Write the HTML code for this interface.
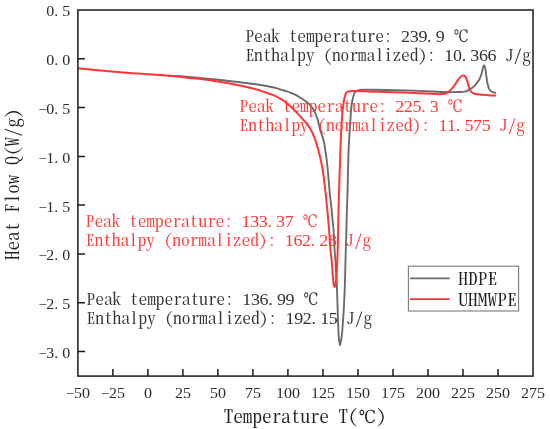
<!DOCTYPE html>
<html><head><meta charset="utf-8"><style>
html,body{margin:0;padding:0;background:#fff;width:550px;height:429px;overflow:hidden}
svg{display:block}
text{white-space:pre}
.m{font-family:"Noto Serif CJK SC",serif;font-feature-settings:"hwid"}
.d{font-family:"Liberation Serif",serif;font-feature-settings:normal}
.dc{font-family:"DejaVu Serif",serif}
.t{font-family:"Liberation Serif",serif;font-size:16px;fill:#2a2a2a}
</style></head><body>
<svg width="550" height="429" viewBox="0 0 550 429">
<path d="M168.00 75.75 C172.00 75.93 175.10 75.97 180.00 76.30 C187.75 76.83 200.00 78.00 210.00 79.00 C220.00 80.00 231.88 81.36 240.00 82.30 C245.55 82.94 249.19 83.30 254.00 84.00 C259.16 84.75 265.76 85.86 270.00 86.70 C272.82 87.26 274.68 87.67 277.00 88.30 C279.35 88.94 281.67 89.74 284.00 90.50 C286.34 91.27 288.81 92.04 291.00 92.90 C292.99 93.68 294.99 94.55 296.60 95.40 C297.90 96.09 298.82 96.77 300.00 97.50 C301.28 98.30 302.69 99.09 304.00 100.00 C305.36 100.95 306.74 101.93 308.00 103.10 C309.31 104.32 310.60 105.78 311.70 107.20 C312.75 108.55 313.68 109.85 314.50 111.40 C315.40 113.09 316.12 115.04 316.80 117.00 C317.53 119.09 318.13 121.41 318.70 123.60 C319.26 125.74 319.54 127.65 320.20 130.00 C321.04 132.98 322.65 136.64 323.50 140.00 C324.34 143.30 324.77 146.66 325.30 150.00 C325.83 153.33 326.28 156.66 326.70 160.00 C327.12 163.33 327.42 166.09 327.80 170.00 C328.34 175.52 328.87 183.34 329.50 190.00 C330.13 196.67 330.93 203.33 331.60 210.00 C332.27 216.67 333.00 223.33 333.50 230.00 C334.00 236.66 334.23 244.48 334.60 250.00 C334.86 253.91 335.12 255.77 335.40 260.00 C335.89 267.32 336.57 280.00 337.00 290.00 C337.43 300.00 337.64 311.27 338.00 320.00 C338.28 326.76 338.44 333.32 338.90 338.00 C339.20 341.01 339.57 345.39 340.00 345.40 C340.43 345.41 341.06 341.02 341.50 338.00 C342.18 333.33 342.62 326.77 343.10 320.00 C343.72 311.27 344.30 300.00 344.70 290.00 C345.10 280.00 345.29 267.32 345.50 260.00 C345.62 255.77 345.68 253.91 345.80 250.00 C345.97 244.48 346.22 236.67 346.40 230.00 C346.58 223.33 346.70 216.67 346.90 210.00 C347.10 203.33 347.42 196.67 347.60 190.00 C347.78 183.33 347.86 175.52 348.00 170.00 C348.10 166.09 348.20 163.33 348.30 160.00 C348.40 156.67 348.47 153.33 348.60 150.00 C348.73 146.67 348.92 143.15 349.10 140.00 C349.26 137.18 349.41 134.94 349.60 132.00 C349.83 128.40 350.09 124.22 350.40 120.00 C350.75 115.28 351.01 109.21 351.60 105.00 C352.03 101.90 352.59 99.24 353.20 97.00 C353.66 95.33 353.87 93.83 354.70 92.70 C355.48 91.64 356.43 90.83 357.90 90.30 C360.24 89.45 363.58 89.87 368.00 89.80 C376.46 89.66 392.51 90.04 405.00 90.40 C417.83 90.77 434.26 91.80 444.00 92.00 C449.83 92.12 454.14 92.11 458.00 92.00 C460.73 91.92 462.90 92.10 465.00 91.60 C466.85 91.16 468.42 90.36 470.00 89.40 C471.66 88.39 473.23 87.12 474.70 85.60 C476.35 83.89 478.13 81.61 479.30 79.50 C480.37 77.56 480.98 75.52 481.60 73.50 C482.21 71.52 482.51 69.03 483.00 67.50 C483.32 66.50 483.65 65.11 484.00 65.10 C484.35 65.09 484.78 66.43 485.10 67.50 C485.66 69.41 485.87 73.03 486.30 75.80 C486.73 78.59 487.07 81.71 487.70 84.20 C488.22 86.28 488.66 88.41 489.60 89.80 C490.34 90.90 491.33 91.68 492.40 92.20 C493.47 92.72 494.80 92.67 496.00 92.90" fill="none" stroke="#6b6b6b" stroke-width="1.9" stroke-linejoin="round"/>
<path d="M78.00 68.30 C87.33 69.20 97.02 70.21 106.00 71.00 C114.30 71.73 121.55 72.26 130.00 72.90 C139.44 73.62 150.00 74.27 160.00 75.10 C170.00 75.93 181.01 76.96 190.00 77.90 C197.34 78.66 202.68 79.13 210.00 80.20 C219.01 81.51 231.90 83.83 240.00 85.50 C245.56 86.65 249.21 87.46 254.00 88.80 C259.18 90.25 265.77 92.47 270.00 94.00 C272.83 95.02 274.71 95.66 277.00 96.80 C279.38 97.98 281.86 99.48 284.00 101.00 C286.00 102.43 287.77 104.11 289.50 105.60 C291.09 106.97 292.53 108.14 294.00 109.60 C295.57 111.16 297.05 113.00 298.60 114.70 C300.15 116.40 301.75 118.04 303.30 119.80 C304.89 121.61 306.65 123.59 308.00 125.40 C309.17 126.97 309.99 128.12 311.00 130.00 C312.42 132.65 314.07 136.63 315.30 140.00 C316.50 143.30 317.38 146.66 318.30 150.00 C319.21 153.32 320.06 156.66 320.80 160.00 C321.53 163.32 322.07 166.08 322.70 170.00 C323.58 175.51 324.53 183.33 325.30 190.00 C326.07 196.66 326.67 203.33 327.30 210.00 C327.93 216.67 328.57 223.33 329.10 230.00 C329.63 236.66 330.00 244.48 330.50 250.00 C330.85 253.91 331.23 256.09 331.60 260.00 C332.12 265.52 332.73 275.42 333.20 280.00 C333.45 282.41 333.54 284.26 333.90 285.50 C334.10 286.18 334.37 287.00 334.60 287.00 C334.83 287.00 335.10 286.18 335.30 285.50 C335.67 284.26 335.85 282.41 336.10 280.00 C336.57 275.42 337.02 265.52 337.30 260.00 C337.50 256.10 337.58 253.91 337.70 250.00 C337.87 244.48 337.97 236.67 338.10 230.00 C338.23 223.33 338.33 216.67 338.50 210.00 C338.67 203.33 338.90 196.67 339.10 190.00 C339.30 183.33 339.51 175.52 339.70 170.00 C339.84 166.09 339.98 163.33 340.10 160.00 C340.22 156.67 340.28 153.33 340.40 150.00 C340.52 146.67 340.65 143.33 340.80 140.00 C340.95 136.67 341.13 133.33 341.30 130.00 C341.47 126.67 341.53 123.67 341.80 120.00 C342.14 115.50 342.74 109.17 343.30 105.00 C343.70 102.00 343.97 99.57 344.60 97.30 C345.13 95.40 345.45 93.22 346.60 92.20 C347.62 91.29 349.44 91.27 350.80 91.10 C352.04 90.94 352.82 91.08 354.40 91.10 C357.48 91.13 362.36 91.25 368.00 91.40 C377.31 91.65 392.46 92.21 405.00 92.60 C417.95 93.01 438.40 95.11 444.50 93.80 C446.47 93.38 447.05 92.78 448.20 92.00 C449.42 91.17 450.53 90.06 451.60 88.90 C452.74 87.67 453.76 86.25 454.80 84.80 C455.90 83.26 456.92 81.33 458.00 79.90 C458.92 78.68 459.86 77.44 460.80 76.70 C461.50 76.15 462.16 75.63 462.90 75.60 C463.69 75.57 464.75 76.07 465.40 76.70 C466.14 77.42 466.45 78.70 466.90 79.90 C467.44 81.34 467.82 83.23 468.30 84.80 C468.75 86.26 469.14 87.73 469.70 89.00 C470.20 90.14 470.63 91.34 471.40 92.10 C472.10 92.79 472.95 93.13 474.00 93.50 C475.42 94.00 477.28 94.23 479.30 94.50 C481.96 94.85 485.66 95.01 488.60 95.20 C491.26 95.37 493.67 95.47 496.20 95.60" fill="none" stroke="#ff3535" stroke-width="2.0" stroke-linejoin="round"/>
<rect x="77.9" y="10.0" width="455.1" height="366.1" fill="none" stroke="#1a1a1a" stroke-width="1.5"/>
<path d="M112.9 376.1V369 M147.9 376.1V369 M182.9 376.1V369 M217.9 376.1V369 M252.9 376.1V369 M287.9 376.1V369 M323.0 376.1V369 M358.0 376.1V369 M393.0 376.1V369 M428.0 376.1V369 M463.0 376.1V369 M498.0 376.1V369 M77.9 58.8H85 M77.9 107.6H85 M77.9 156.4H85 M77.9 205.1H85 M77.9 253.9H85 M77.9 302.7H85 M77.9 351.5H85" stroke="#1a1a1a" stroke-width="1.5" fill="none"/>
<text class="t" transform="translate(0,397.70) scale(1,0.93)" y="0"><tspan x="66.30" font-size="15">−</tspan><tspan x="73.90">5</tspan><tspan x="81.90">0</tspan></text>
<text class="t" transform="translate(0,397.70) scale(1,0.93)" y="0"><tspan x="101.31" font-size="15">−</tspan><tspan x="108.91">2</tspan><tspan x="116.91">5</tspan></text>
<text class="t" transform="translate(0,397.70) scale(1,0.93)" y="0"><tspan x="143.92">0</tspan></text>
<text class="t" transform="translate(0,397.70) scale(1,0.93)" y="0"><tspan x="174.92">2</tspan><tspan x="182.92">5</tspan></text>
<text class="t" transform="translate(0,397.70) scale(1,0.93)" y="0"><tspan x="209.93">5</tspan><tspan x="217.93">0</tspan></text>
<text class="t" transform="translate(0,397.70) scale(1,0.93)" y="0"><tspan x="244.94">7</tspan><tspan x="252.94">5</tspan></text>
<text class="t" transform="translate(0,397.70) scale(1,0.93)" y="0"><tspan x="275.95">1</tspan><tspan x="283.95">0</tspan><tspan x="291.95">0</tspan></text>
<text class="t" transform="translate(0,397.70) scale(1,0.93)" y="0"><tspan x="310.95">1</tspan><tspan x="318.95">2</tspan><tspan x="326.95">5</tspan></text>
<text class="t" transform="translate(0,397.70) scale(1,0.93)" y="0"><tspan x="345.96">1</tspan><tspan x="353.96">5</tspan><tspan x="361.96">0</tspan></text>
<text class="t" transform="translate(0,397.70) scale(1,0.93)" y="0"><tspan x="380.97">1</tspan><tspan x="388.97">7</tspan><tspan x="396.97">5</tspan></text>
<text class="t" transform="translate(0,397.70) scale(1,0.93)" y="0"><tspan x="415.98">2</tspan><tspan x="423.98">0</tspan><tspan x="431.98">0</tspan></text>
<text class="t" transform="translate(0,397.70) scale(1,0.93)" y="0"><tspan x="450.98">2</tspan><tspan x="458.98">2</tspan><tspan x="466.98">5</tspan></text>
<text class="t" transform="translate(0,397.70) scale(1,0.93)" y="0"><tspan x="485.99">2</tspan><tspan x="493.99">5</tspan><tspan x="501.99">0</tspan></text>
<text class="t" transform="translate(0,397.70) scale(1,0.93)" y="0"><tspan x="521.00">2</tspan><tspan x="529.00">7</tspan><tspan x="537.00">5</tspan></text>
<text class="t" transform="translate(0,16.40) scale(1,0.93)" y="0"><tspan x="46.30">0</tspan><tspan x="54.30">.</tspan><tspan x="62.30">5</tspan></text>
<text class="t" transform="translate(0,65.19) scale(1,0.93)" y="0"><tspan x="46.30">0</tspan><tspan x="54.30">.</tspan><tspan x="62.30">0</tspan></text>
<text class="t" transform="translate(0,113.97) scale(1,0.93)" y="0"><tspan x="38.70" font-size="15">−</tspan><tspan x="46.30">0</tspan><tspan x="54.30">.</tspan><tspan x="62.30">5</tspan></text>
<text class="t" transform="translate(0,162.76) scale(1,0.93)" y="0"><tspan x="38.70" font-size="15">−</tspan><tspan x="46.30">1</tspan><tspan x="54.30">.</tspan><tspan x="62.30">0</tspan></text>
<text class="t" transform="translate(0,211.54) scale(1,0.93)" y="0"><tspan x="38.70" font-size="15">−</tspan><tspan x="46.30">1</tspan><tspan x="54.30">.</tspan><tspan x="62.30">5</tspan></text>
<text class="t" transform="translate(0,260.33) scale(1,0.93)" y="0"><tspan x="38.70" font-size="15">−</tspan><tspan x="46.30">2</tspan><tspan x="54.30">.</tspan><tspan x="62.30">0</tspan></text>
<text class="t" transform="translate(0,309.11) scale(1,0.93)" y="0"><tspan x="38.70" font-size="15">−</tspan><tspan x="46.30">2</tspan><tspan x="54.30">.</tspan><tspan x="62.30">5</tspan></text>
<text class="t" transform="translate(0,357.90) scale(1,0.93)" y="0"><tspan x="38.70" font-size="15">−</tspan><tspan x="46.30">3</tspan><tspan x="54.30">.</tspan><tspan x="62.30">0</tspan></text>
<text class="m" transform="translate(223.75,422.80) scale(1,0.934)" y="0" font-size="19.12" fill="#222"><tspan x="0.00 9.56 19.12 28.68 38.24 47.80 57.36 66.92 76.48 86.04 95.60 105.16 114.72 124.28 152.96">Temperature T()</tspan></text><text class="dc" transform="translate(358.64,422.80) scale(0.850,1)" font-size="18.10" fill="#222">℃</text>
<text class="m" transform="translate(18.90,259.95) rotate(-90) scale(1,0.937)" y="0" font-size="18.92" fill="#222"><tspan x="0.00 9.46 18.92 28.38 37.84 47.30 56.76 66.22 75.68 85.14 94.60 104.06 113.52 122.98 132.44 141.90">Heat Flow Q(W/g)</tspan></text>
<text class="m" transform="translate(245.40,42.00) scale(1,0.925)" y="0" font-size="17.30" fill="#333"><tspan x="0.00 8.65 17.30 25.95 34.60 43.25 51.90 60.55 69.20 77.85 86.50 95.15 103.80 112.45 121.10 129.75 138.40 147.05">Peak temperature: </tspan><tspan x="155.70 164.35 173.00 181.65 190.30" class="d" font-size="18.00">239.9</tspan><tspan x="198.95"> </tspan></text><text class="dc" transform="translate(453.70,42.00) scale(0.780,1)" font-size="17.00" fill="#333">℃</text>
<text class="m" transform="translate(245.40,60.90) scale(1,0.925)" y="0" font-size="17.30" fill="#333"><tspan x="0.00 8.65 17.30 25.95 34.60 43.25 51.90 60.55 69.20 77.85 86.50 95.15 103.80 112.45 121.10 129.75 138.40 147.05 155.70 164.35 173.00 181.65 190.30">Enthalpy (normalized): </tspan><tspan x="198.95 207.60 216.25 224.90 233.55 242.20" class="d" font-size="18.00">10.366</tspan><tspan x="250.85 259.50 268.15 276.80"> J/g</tspan></text>
<text class="m" transform="translate(239.50,112.00) scale(1,0.925)" y="0" font-size="17.30" fill="#ff3a3a"><tspan x="0.00 8.65 17.30 25.95 34.60 43.25 51.90 60.55 69.20 77.85 86.50 95.15 103.80 112.45 121.10 129.75 138.40 147.05">Peak temperature: </tspan><tspan x="155.70 164.35 173.00 181.65 190.30" class="d" font-size="18.00">225.3</tspan><tspan x="198.95"> </tspan></text><text class="dc" transform="translate(447.80,112.00) scale(0.780,1)" font-size="17.00" fill="#ff3a3a">℃</text>
<text class="m" transform="translate(239.50,130.90) scale(1,0.925)" y="0" font-size="17.30" fill="#ff3a3a"><tspan x="0.00 8.65 17.30 25.95 34.60 43.25 51.90 60.55 69.20 77.85 86.50 95.15 103.80 112.45 121.10 129.75 138.40 147.05 155.70 164.35 173.00 181.65 190.30">Enthalpy (normalized): </tspan><tspan x="198.95 207.60 216.25 224.90 233.55 242.20" class="d" font-size="18.00">11.575</tspan><tspan x="250.85 259.50 268.15 276.80"> J/g</tspan></text>
<text class="m" transform="translate(85.80,227.20) scale(1,0.925)" y="0" font-size="17.30" fill="#ff3a3a"><tspan x="0.00 8.65 17.30 25.95 34.60 43.25 51.90 60.55 69.20 77.85 86.50 95.15 103.80 112.45 121.10 129.75 138.40 147.05">Peak temperature: </tspan><tspan x="155.70 164.35 173.00 181.65 190.30 198.95" class="d" font-size="18.00">133.37</tspan><tspan x="207.60"> </tspan></text><text class="dc" transform="translate(302.75,227.20) scale(0.780,1)" font-size="17.00" fill="#ff3a3a">℃</text>
<text class="m" transform="translate(85.80,246.20) scale(1,0.925)" y="0" font-size="17.30" fill="#ff3a3a"><tspan x="0.00 8.65 17.30 25.95 34.60 43.25 51.90 60.55 69.20 77.85 86.50 95.15 103.80 112.45 121.10 129.75 138.40 147.05 155.70 164.35 173.00 181.65 190.30">Enthalpy (normalized): </tspan><tspan x="198.95 207.60 216.25 224.90 233.55 242.20" class="d" font-size="18.00">162.28</tspan><tspan x="250.85 259.50 268.15 276.80"> J/g</tspan></text>
<text class="m" transform="translate(86.60,304.90) scale(1,0.925)" y="0" font-size="17.30" fill="#333"><tspan x="0.00 8.65 17.30 25.95 34.60 43.25 51.90 60.55 69.20 77.85 86.50 95.15 103.80 112.45 121.10 129.75 138.40 147.05">Peak temperature: </tspan><tspan x="155.70 164.35 173.00 181.65 190.30 198.95" class="d" font-size="18.00">136.99</tspan><tspan x="207.60"> </tspan></text><text class="dc" transform="translate(303.55,304.90) scale(0.780,1)" font-size="17.00" fill="#333">℃</text>
<text class="m" transform="translate(86.60,324.00) scale(1,0.925)" y="0" font-size="17.30" fill="#333"><tspan x="0.00 8.65 17.30 25.95 34.60 43.25 51.90 60.55 69.20 77.85 86.50 95.15 103.80 112.45 121.10 129.75 138.40 147.05 155.70 164.35 173.00 181.65 190.30">Enthalpy (normalized): </tspan><tspan x="198.95 207.60 216.25 224.90 233.55 242.20" class="d" font-size="18.00">192.15</tspan><tspan x="250.85 259.50 268.15 276.80"> J/g</tspan></text>
<rect x="408.4" y="266.2" width="110.2" height="44.8" fill="#fff" stroke="#7a7a7a" stroke-width="1.1"/>
<line x1="410" y1="278.4" x2="449.8" y2="278.4" stroke="#6b6b6b" stroke-width="1.8"/>
<line x1="410" y1="299.2" x2="449.8" y2="299.2" stroke="#ff3535" stroke-width="1.8"/>
<text class="m" transform="translate(458.20,284.90) scale(1,0.900)" y="0" font-size="19.50" fill="#222"><tspan x="0.00 9.75 19.50 29.25">HDPE</tspan></text>
<text class="m" transform="translate(458.20,305.70) scale(1,0.900)" y="0" font-size="19.50" fill="#222"><tspan x="0.00 9.75 19.50 29.25 39.00 48.75">UHMWPE</tspan></text>
</svg></body></html>
